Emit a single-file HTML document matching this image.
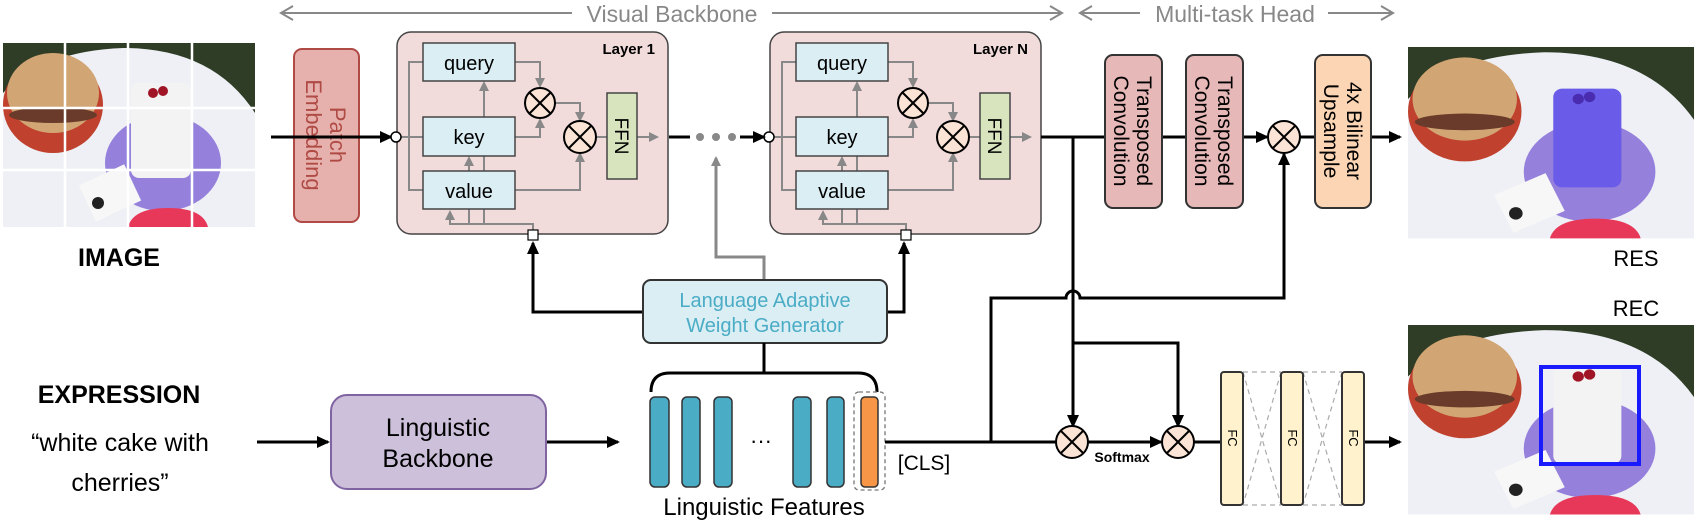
<!DOCTYPE html>
<html><head><meta charset="utf-8"><style>
html,body{margin:0;padding:0;background:#fff;overflow:hidden;width:1703px;height:527px}
svg{display:block}
text{font-family:"Liberation Sans",sans-serif}
</style></head><body>
<svg width="1703" height="527" viewBox="0 0 1703 527" xmlns="http://www.w3.org/2000/svg" overflow="hidden">
<defs>
<marker id="ab" markerWidth="13" markerHeight="12" refX="11" refY="6" orient="auto" markerUnits="userSpaceOnUse"><path d="M0,0 L13,6 L0,12 z" fill="#000"/></marker>
<marker id="ag" markerWidth="10" markerHeight="10" refX="8" refY="5" orient="auto" markerUnits="userSpaceOnUse"><path d="M0,0 L10,5 L0,10 z" fill="#888"/></marker>
<marker id="ao" markerWidth="16" markerHeight="16" refX="14" refY="8" orient="auto-start-reverse" markerUnits="userSpaceOnUse"><path d="M2,1 L14,8 L2,15" fill="none" stroke="#888" stroke-width="2"/></marker>
<g id="photo">
<rect x="0" y="0" width="252" height="184" fill="#eef0f5"/>
<path d="M0,0 H252 V70 Q210,5 120,5 Q40,8 0,50 Z" fill="#2f3d26"/>
<ellipse cx="50" cy="62" rx="50" ry="48" fill="#c0412e"/>
<ellipse cx="50" cy="50" rx="46" ry="40" fill="#d2a574"/>
<ellipse cx="50" cy="72" rx="44" ry="8" fill="#6a3b2a"/>
<ellipse cx="160" cy="120" rx="58" ry="48" fill="#9580dc"/>
<path d="M125,184 Q130,165 165,165 Q200,165 205,184 Z" fill="#e8385a"/>
<rect x="82" y="130" width="50" height="40" fill="#f7f7f7" transform="rotate(-25 107 150)"/>
<circle cx="95" cy="160" r="6" fill="#222"/>
</g>
</defs>

<line x1="281" y1="13" x2="1062" y2="13" stroke="#888" stroke-width="2" marker-start="url(#ao)" marker-end="url(#ao)"/>
<rect x="572" y="0" width="200" height="26" fill="#fff"/>
<text x="672" y="22" font-size="23" fill="#888" text-anchor="middle">Visual Backbone</text>
<line x1="1080" y1="13" x2="1393" y2="13" stroke="#888" stroke-width="2" marker-start="url(#ao)" marker-end="url(#ao)"/>
<rect x="1140" y="0" width="188" height="26" fill="#fff"/>
<text x="1235" y="22" font-size="23" fill="#888" text-anchor="middle">Multi-task Head</text>

<g transform="translate(3,43)"><use href="#photo"/>
<rect x="128" y="40" width="60" height="95" rx="8" fill="#f3f3f3"/><circle cx="150" cy="50" r="5" fill="#a01525"/><circle cx="160" cy="48" r="5" fill="#a01525"/>
<g stroke="#fff" stroke-width="2.5"><line x1="62" y1="0" x2="62" y2="184"/><line x1="125" y1="0" x2="125" y2="184"/><line x1="189" y1="0" x2="189" y2="184"/><line x1="0" y1="65" x2="252" y2="65"/><line x1="0" y1="127" x2="252" y2="127"/></g></g>
<text x="119" y="266" font-size="25" font-weight="bold" text-anchor="middle">IMAGE</text>

<rect x="294" y="49" width="65" height="173" rx="8" fill="#e6b1ad" stroke="#b04a45" stroke-width="2"/>
<text transform="translate(326,135) rotate(90)" font-size="22" fill="#b04a45" text-anchor="middle"><tspan x="0" dy="-4">Patch</tspan><tspan x="0" dy="24">Embedding</tspan></text>

<line x1="271" y1="137" x2="391" y2="137" stroke="#000" stroke-width="3" marker-end="url(#ab)"/>

<g>
<rect x="397" y="32" width="271" height="202" rx="14" fill="#f2dcdb" stroke="#444" stroke-width="1.5"/>
<text x="655" y="54" font-size="15" font-weight="bold" text-anchor="end">Layer 1</text>
<g stroke="#888" stroke-width="2" fill="none">
<path d="M423,62 H409 V190 H423"/>
<line x1="400" y1="137" x2="423" y2="137"/>
<path d="M515,62 H540 V86" marker-end="url(#ag)"/>
<path d="M515,137 H540 V120" marker-end="url(#ag)"/>
<path d="M555,103 H580 V120" marker-end="url(#ag)"/>
<path d="M515,190 H580 V154" marker-end="url(#ag)"/>
<line x1="484" y1="117" x2="484" y2="83" marker-end="url(#ag)"/>
<line x1="469" y1="171" x2="469" y2="158" marker-end="url(#ag)"/>
<line x1="484" y1="171" x2="484" y2="156"/>
<path d="M533,231 V224 H450 V212" marker-end="url(#ag)"/>
<line x1="469" y1="224" x2="469" y2="209"/>
<line x1="484" y1="224" x2="484" y2="209"/>
<line x1="595" y1="137" x2="607" y2="137"/>
<line x1="637" y1="137" x2="657" y2="137" marker-end="url(#ag)"/>
</g>
<circle cx="396" cy="137" r="5" fill="#fff" stroke="#000" stroke-width="1.5"/>
<rect x="423" y="43" width="92" height="38" fill="#daeef3" stroke="#444" stroke-width="1.5"/>
<text x="469" y="70" font-size="20" text-anchor="middle">query</text>
<rect x="423" y="117" width="92" height="39" fill="#daeef3" stroke="#444" stroke-width="1.5"/>
<text x="469" y="144" font-size="20" text-anchor="middle">key</text>
<rect x="423" y="171" width="92" height="38" fill="#daeef3" stroke="#444" stroke-width="1.5"/>
<text x="469" y="198" font-size="20" text-anchor="middle">value</text>
<g stroke="#000" stroke-width="2"><circle cx="540" cy="103" r="15" fill="#fbe4d5"/><line x1="529" y1="92" x2="551" y2="114"/><line x1="551" y1="92" x2="529" y2="114"/>
<circle cx="580" cy="137" r="16" fill="#fbe4d5"/><line x1="569" y1="126" x2="591" y2="148"/><line x1="591" y1="126" x2="569" y2="148"/></g>
<rect x="607" y="93" width="30" height="86" fill="#d7e4bd" stroke="#444" stroke-width="1.5"/>
<text transform="translate(622,136) rotate(90)" font-size="19" text-anchor="middle" dy="7">FFN</text>
<rect x="528" y="230" width="10" height="10" fill="#fff" stroke="#000" stroke-width="1.2"/>
</g>
<g transform="translate(373,0)">
<rect x="397" y="32" width="271" height="202" rx="14" fill="#f2dcdb" stroke="#444" stroke-width="1.5"/>
<text x="655" y="54" font-size="15" font-weight="bold" text-anchor="end">Layer N</text>
<g stroke="#888" stroke-width="2" fill="none">
<path d="M423,62 H409 V190 H423"/>
<line x1="400" y1="137" x2="423" y2="137"/>
<path d="M515,62 H540 V86" marker-end="url(#ag)"/>
<path d="M515,137 H540 V120" marker-end="url(#ag)"/>
<path d="M555,103 H580 V120" marker-end="url(#ag)"/>
<path d="M515,190 H580 V154" marker-end="url(#ag)"/>
<line x1="484" y1="117" x2="484" y2="83" marker-end="url(#ag)"/>
<line x1="469" y1="171" x2="469" y2="158" marker-end="url(#ag)"/>
<line x1="484" y1="171" x2="484" y2="156"/>
<path d="M533,231 V224 H450 V212" marker-end="url(#ag)"/>
<line x1="469" y1="224" x2="469" y2="209"/>
<line x1="484" y1="224" x2="484" y2="209"/>
<line x1="595" y1="137" x2="607" y2="137"/>
<line x1="637" y1="137" x2="657" y2="137" marker-end="url(#ag)"/>
</g>
<circle cx="396" cy="137" r="5" fill="#fff" stroke="#000" stroke-width="1.5"/>
<rect x="423" y="43" width="92" height="38" fill="#daeef3" stroke="#444" stroke-width="1.5"/>
<text x="469" y="70" font-size="20" text-anchor="middle">query</text>
<rect x="423" y="117" width="92" height="39" fill="#daeef3" stroke="#444" stroke-width="1.5"/>
<text x="469" y="144" font-size="20" text-anchor="middle">key</text>
<rect x="423" y="171" width="92" height="38" fill="#daeef3" stroke="#444" stroke-width="1.5"/>
<text x="469" y="198" font-size="20" text-anchor="middle">value</text>
<g stroke="#000" stroke-width="2"><circle cx="540" cy="103" r="15" fill="#fbe4d5"/><line x1="529" y1="92" x2="551" y2="114"/><line x1="551" y1="92" x2="529" y2="114"/>
<circle cx="580" cy="137" r="16" fill="#fbe4d5"/><line x1="569" y1="126" x2="591" y2="148"/><line x1="591" y1="126" x2="569" y2="148"/></g>
<rect x="607" y="93" width="30" height="86" fill="#d7e4bd" stroke="#444" stroke-width="1.5"/>
<text transform="translate(622,136) rotate(90)" font-size="19" text-anchor="middle" dy="7">FFN</text>
<rect x="528" y="230" width="10" height="10" fill="#fff" stroke="#000" stroke-width="1.2"/>
</g>

<line x1="669" y1="137" x2="690" y2="137" stroke="#000" stroke-width="3"/>
<circle cx="700" cy="137" r="4" fill="#888"/><circle cx="716" cy="137" r="4" fill="#888"/><circle cx="732" cy="137" r="4" fill="#888"/>
<line x1="740" y1="137" x2="764" y2="137" stroke="#000" stroke-width="3" marker-end="url(#ab)"/>
<path d="M764,280 V257 H716 V158" fill="none" stroke="#888" stroke-width="3" marker-end="url(#ag)"/>

<path d="M642,312 H533 V243" fill="none" stroke="#000" stroke-width="3" marker-end="url(#ab)"/>
<path d="M887,312 H904 V243" fill="none" stroke="#000" stroke-width="3" marker-end="url(#ab)"/>
<rect x="643" y="280" width="244" height="63" rx="8" fill="#daeef3" stroke="#333" stroke-width="2"/>
<text x="765" y="307" font-size="20" fill="#4bacc6" text-anchor="middle">Language Adaptive</text>
<text x="765" y="332" font-size="20" fill="#4bacc6" text-anchor="middle">Weight Generator</text>
<line x1="764" y1="343" x2="764" y2="373" stroke="#000" stroke-width="3"/>
<path d="M651,392 Q651,373 670,373 H858 Q877,373 877,392" fill="none" stroke="#000" stroke-width="3"/>

<g fill="#4bacc6" stroke="#333" stroke-width="1.5">
<rect x="650" y="397" width="19" height="90" rx="5"/><rect x="682" y="397" width="18" height="90" rx="5"/><rect x="714" y="397" width="18" height="90" rx="5"/>
<rect x="793" y="397" width="18" height="90" rx="5"/><rect x="827" y="397" width="17" height="90" rx="5"/></g>
<text x="761" y="448" font-size="22" text-anchor="middle">···</text>
<rect x="854" y="392" width="31" height="98" rx="5" fill="none" stroke="#777" stroke-width="1.3" stroke-dasharray="4,3"/>
<rect x="861" y="397" width="17" height="90" rx="4" fill="#f79646" stroke="#333" stroke-width="1.5"/>
<text x="924" y="470" font-size="21" text-anchor="middle">[CLS]</text>
<text x="764" y="515" font-size="24" text-anchor="middle">Linguistic Features</text>

<text x="119" y="403" font-size="25" font-weight="bold" text-anchor="middle">EXPRESSION</text>
<text x="120" y="451" font-size="25" text-anchor="middle">“white cake with</text>
<text x="120" y="491" font-size="25" text-anchor="middle">cherries”</text>
<line x1="257" y1="442" x2="328" y2="442" stroke="#000" stroke-width="3" marker-end="url(#ab)"/>
<rect x="331" y="395" width="215" height="94" rx="16" fill="#ccc0da" stroke="#8064a2" stroke-width="2"/>
<text x="438" y="436" font-size="25" text-anchor="middle">Linguistic</text>
<text x="438" y="467" font-size="25" text-anchor="middle">Backbone</text>
<line x1="547" y1="442" x2="618" y2="442" stroke="#000" stroke-width="3" marker-end="url(#ab)"/>

<g stroke="#000" stroke-width="3" fill="none">
<line x1="1041" y1="137" x2="1105" y2="137"/>
<line x1="1162" y1="137" x2="1186" y2="137"/>
<line x1="1243" y1="137" x2="1267" y2="137" marker-end="url(#ab)"/>
<line x1="1300" y1="137" x2="1315" y2="137"/>
<line x1="1371" y1="137" x2="1400" y2="137" marker-end="url(#ab)"/>
<path d="M1073,137 V426" marker-end="url(#ab)"/>
<path d="M1073,343 H1178 V426" marker-end="url(#ab)"/>
<path d="M885,442 H1056"/>
<path d="M991,442 V298 H1066 A7,7 0 0 1 1080,298 H1284 V154" marker-end="url(#ab)"/>
<line x1="1088" y1="442" x2="1161" y2="442" marker-end="url(#ab)"/>
<line x1="1194" y1="442" x2="1221" y2="442"/>
<line x1="1364" y1="442" x2="1400" y2="442" marker-end="url(#ab)"/>
</g>
<rect x="1105" y="55" width="57" height="153" rx="8" fill="#e6b8b7" stroke="#333" stroke-width="2"/>
<text transform="translate(1133,131) rotate(90)" font-size="21" text-anchor="middle"><tspan x="0" dy="-4">Transposed</tspan><tspan x="0" dy="23">Convolution</tspan></text>
<rect x="1186" y="55" width="57" height="153" rx="8" fill="#e6b8b7" stroke="#333" stroke-width="2"/>
<text transform="translate(1214,131) rotate(90)" font-size="21" text-anchor="middle"><tspan x="0" dy="-4">Transposed</tspan><tspan x="0" dy="23">Convolution</tspan></text>
<rect x="1315" y="55" width="56" height="153" rx="8" fill="#fcd5b4" stroke="#333" stroke-width="2"/>
<text transform="translate(1343,131) rotate(90)" font-size="21" text-anchor="middle"><tspan x="0" dy="-4">4x Bilinear</tspan><tspan x="0" dy="23">Upsample</tspan></text>
<g stroke="#000" stroke-width="2">
<circle cx="1284" cy="137" r="16" fill="#fbe4d5"/><line x1="1273" y1="126" x2="1295" y2="148"/><line x1="1295" y1="126" x2="1273" y2="148"/>
<circle cx="1072" cy="442" r="16" fill="#fbe4d5"/><line x1="1061" y1="431" x2="1083" y2="453"/><line x1="1083" y1="431" x2="1061" y2="453"/>
<circle cx="1178" cy="442" r="16" fill="#fbe4d5"/><line x1="1167" y1="431" x2="1189" y2="453"/><line x1="1189" y1="431" x2="1167" y2="453"/></g>
<text x="1122" y="462" font-size="14" font-weight="bold" text-anchor="middle">Softmax</text>

<g stroke="#aaa" stroke-width="1.2" stroke-dasharray="5,4" fill="none">
<path d="M1243,372 H1281 M1243,505 H1281 M1243,372 L1281,505 M1281,372 L1243,505"/>
<path d="M1303,372 H1342 M1303,505 H1342 M1303,372 L1342,505 M1342,372 L1303,505"/>
</g>
<g fill="#fff2cc" stroke="#333" stroke-width="2">
<rect x="1221" y="372" width="22" height="133" rx="3"/><rect x="1281" y="372" width="22" height="133" rx="3"/><rect x="1342" y="372" width="22" height="133" rx="3"/></g>
<text transform="translate(1232,438) rotate(90)" font-size="13" text-anchor="middle" dy="4">FC</text>
<text transform="translate(1292,438) rotate(90)" font-size="13" text-anchor="middle" dy="4">FC</text>
<text transform="translate(1353,438) rotate(90)" font-size="13" text-anchor="middle" dy="4">FC</text>

<g transform="translate(1408,47) scale(1.135,1.04)"><use href="#photo"/><rect x="128" y="40" width="60" height="95" rx="8" fill="#6a5ce8"/><circle cx="150" cy="50" r="5" fill="#4a2cb0"/><circle cx="160" cy="48" r="5" fill="#4a2cb0"/></g>
<text x="1636" y="266" font-size="22" text-anchor="middle">RES</text>
<text x="1636" y="316" font-size="22" text-anchor="middle">REC</text>
<g transform="translate(1408,325) scale(1.135,1.03)"><use href="#photo"/><rect x="128" y="40" width="60" height="95" rx="8" fill="#f3f3f3"/><circle cx="150" cy="50" r="5" fill="#a01525"/><circle cx="160" cy="48" r="5" fill="#a01525"/></g>
<rect x="1541" y="367" width="98" height="97" fill="none" stroke="#1a1aff" stroke-width="4"/>
</svg>
</body></html>
